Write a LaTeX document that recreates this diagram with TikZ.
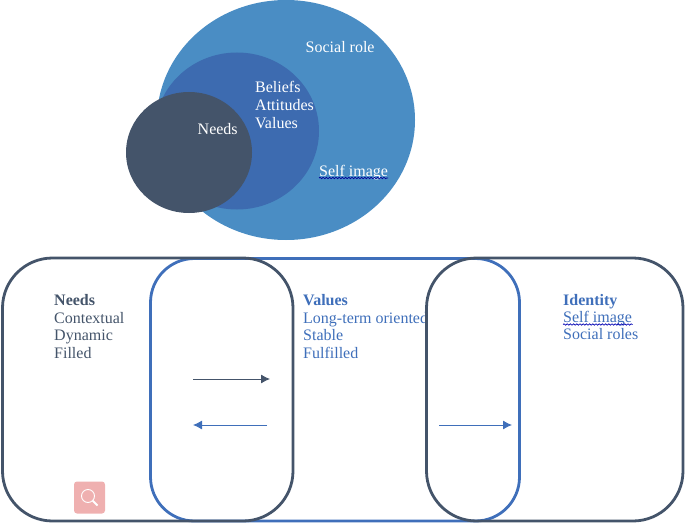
\documentclass[tikz,border=0pt]{standalone}
\usepackage{fontspec}
\setmainfont{Liberation Serif}
\usetikzlibrary{arrows.meta,decorations.pathmorphing,calc,shapes.geometric}
\definecolor{cbig}{HTML}{4A8DC4}
\definecolor{cmid}{HTML}{3D6BB0}
\definecolor{cdark}{HTML}{44546A}
\definecolor{cblue}{HTML}{3F6FBA}
\definecolor{cpink}{HTML}{EFB0B0}
\tikzset{
  x=1pt,y=-1pt,
  disc/.style={ellipse,inner sep=0pt,draw=none},
  frameD/.style={draw=cdark,line width=2.8pt},
  frameB/.style={draw=cblue,line width=2.8pt},
  lbl/.style={font=\fontsize{16}{17.8}\selectfont,align=left,anchor=north west,inner sep=0pt},
  wlbl/.style={lbl,text=white},
  arrD/.style={draw=cdark,line width=.9pt,-{Latex[length=9pt,width=9pt]}},
  arrB/.style={draw=cblue,line width=.9pt,-{Latex[length=9pt,width=9pt]}},
  wavy/.style={draw=#1,line width=.7pt,decorate,decoration={snake,amplitude=.7pt,segment length=3.2pt}}
}
\begin{document}
\begin{tikzpicture}
\useasboundingbox (0,0) rectangle (685,524);
% circles
\node[disc,fill=cbig,minimum width=258pt,minimum height=240pt] (big) at (286,120) {};
\node[disc,fill=cmid,minimum width=164pt,minimum height=157pt] (mid) at (237,131) {};
\node[disc,fill=cdark,minimum width=126pt,minimum height=121pt] (dark) at (189,152.5) {};
\node[wlbl] (social) at (305.5,41) {Social role};
\node[wlbl] (beliefs) at (255,81) {Beliefs\\Attitudes\\Values};
\node[lbl,text=white] (needsc) at (197.5,123) {Needs};
\node[wlbl] (selfc) at (319,165) {Self image};
\coordinate (sa) at (319,178);
\coordinate (sb) at (388,178);
\draw[wavy=blue!60!black] (sa) -- (sb);
% texts
\node[lbl,text=cdark] (needs) at (54,294) {\textbf{Needs}\\Contextual\\Dynamic\\Filled};
\node[lbl,text=cblue] (values) at (303,294) {\textbf{Values}\\Long-term oriented\\Stable\\Fulfilled};
\node[lbl,text=cblue,font=\fontsize{16}{17.2}\selectfont] (identity) at (563,294) {\textbf{Identity}\\Self image\\Social roles};
\coordinate (wa) at (563,324.5);
\coordinate (wb) at (632.5,324.5);
\draw[wavy=blue!70!black] (wa) -- (wb);
% frames
\draw[frameB,rounded corners=44pt] (150.5,258.5) rectangle (519.5,521);
\draw[frameD,rounded corners=50pt] (2.5,258) rectangle (293,521);
\draw[frameD,rounded corners=50pt] (426.5,258) rectangle (683,521);
% arrows
\coordinate (a1s) at (193,379);
\coordinate (a1e) at (270,379);
\coordinate (a2s) at (267,425);
\coordinate (a2e) at (193,425);
\coordinate (a3s) at (439,425);
\coordinate (a3e) at (512,425);
\draw[arrD] (a1s) -- (a1e);
\draw[arrB] (a2s) -- (a2e);
\draw[arrB] (a3s) -- (a3e);
% icon
\node[fill=cpink,rounded corners=3pt,minimum width=31pt,minimum height=32pt,inner sep=0pt] (icon) at (89.5,497.5) {};
\draw[white,line width=.9pt] (icon.center) ++(-1.5,-1.5) circle[radius=6.5pt];
\draw[white,line width=2pt] ($(icon.center)+(3.3,3.3)$) -- ($(icon.center)+(8,8)$);
\end{tikzpicture}
\end{document}
